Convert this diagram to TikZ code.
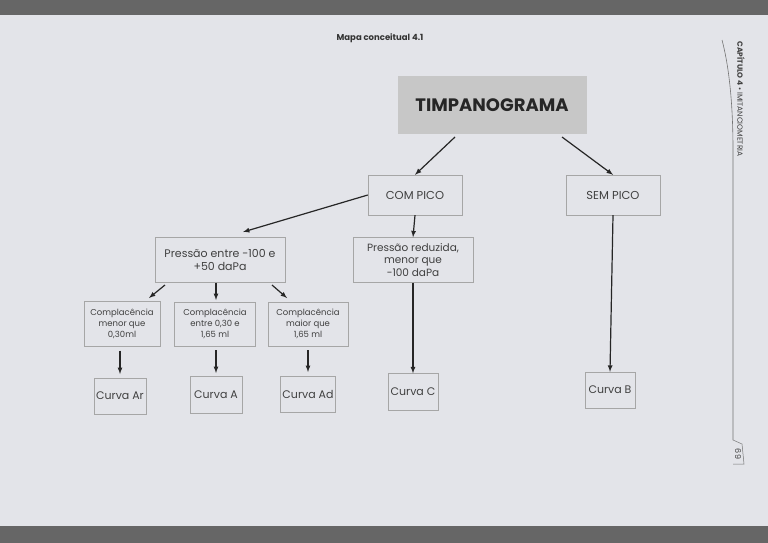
\documentclass[tikz,border=0pt]{standalone}
\usepackage{fontspec}
\setmainfont{Poppins}
\begin{document}
\begin{tikzpicture}[x=1pt,y=-1pt,
 box/.style={draw=gray!70,fill=pagec,inner sep=2pt,align=center,font=\fontsize{11}{12}\selectfont,text=black!75},
 arr/.style={-latex,line width=1.2pt,black!85}]
\definecolor{pagec}{HTML}{E3E4E9}
\fill[black!60] (0,0) rectangle (768,543);
\fill[pagec] (0,15) rectangle (768,526);
\useasboundingbox (0,0) rectangle (768,543);
\node[font=\bfseries\fontsize{8.5}{9}\selectfont,text=black!80] (hdr) at (380,38) {Mapa conceitual 4.1};
\node[box,fill=black!22,draw=none,minimum width=189,minimum height=58,font=\bfseries\fontsize{18}{19}\selectfont,text=black!85] (t) at (492,105) {TIMPANOGRAMA};
\node[box,minimum width=94,minimum height=40,font=\fontsize{11.5}{12}\selectfont] (com) at (415,195) {COM PICO};
\node[box,minimum width=94,minimum height=40,font=\fontsize{11.5}{12}\selectfont] (sem) at (613,195) {SEM PICO};
\node[box,minimum width=130,minimum height=45,font=\fontsize{11}{13.5}\selectfont] (pe) at (220,260) {Pressão entre -100 e\\+50 daPa};
\node[box,minimum width=120,minimum height=45,inner sep=1pt,font=\fontsize{10.5}{12.5}\selectfont] (pr) at (413,260) {Pressão reduzida,\\menor que\\-100 daPa};
\node[box,minimum width=76,minimum height=45,inner sep=1pt,font=\fontsize{8.5}{11}\selectfont] (c1) at (122,324) {Complacência\\menor que\\0,30ml};
\node[box,minimum width=81,minimum height=44,inner sep=1pt,font=\fontsize{8.5}{11}\selectfont] (c2) at (215,324) {Complacência\\entre 0,30 e\\1,65 ml};
\node[box,minimum width=80,minimum height=44,inner sep=1pt,font=\fontsize{8.5}{11}\selectfont] (c3) at (308,324) {Complacência\\maior que\\1,65 ml};
\node[box,minimum width=51,minimum height=36] (ar) at (120,396) {Curva Ar};
\node[box,minimum width=52,minimum height=37] (a) at (216,395) {Curva A};
\node[box,minimum width=51,minimum height=36] (ad) at (308,394) {Curva Ad};
\node[box,minimum width=50,minimum height=37] (cc) at (413,392) {Curva C};
\node[box,minimum width=50,minimum height=36] (cb) at (610,390) {Curva B};
\draw[arr] (455,137) -- (com.north);
\draw[arr] (562,137) -- (sem.north);
\draw[arr] (com.west) -- (243,232);
\draw[arr] (com.south) -- (pr.north);
\draw[arr] (sem.south) -- (cb.north);
\draw[arr] (pr.south) -- (cc.north);
\draw[arr] (165,285) -- (149,298);
\draw[arr] (pe.south) ++(-4,0) -- (216,300);
\draw[arr] (272,285) -- (287,298);
\draw[arr] (c1.south) ++(-2,4) -- (120,374);
\draw[arr] (c2.south) ++(1,4) -- (216,373);
\draw[arr] (c3.south) ++(0,4) -- (308,372);
\draw[black!55,line width=0.6pt] (722,40) .. controls (730,70) and (733,110) .. (733,150) -- (733,440);
\node[rotate=-90,anchor=west,font=\fontsize{7.5}{8}\selectfont,text=black!75] (cap) at (741,38) {\textbf{CAPÍTULO 4} \textbullet{} IMITANCIOMETRIA};
\draw[black!55,line width=0.5pt] (733,440) -- (742,444) -- (744,464) -- (733,464);
\node[rotate=-90,font=\fontsize{8}{8}\selectfont,text=black!75] (pg) at (738,454) {69};
\end{tikzpicture}
\end{document}
